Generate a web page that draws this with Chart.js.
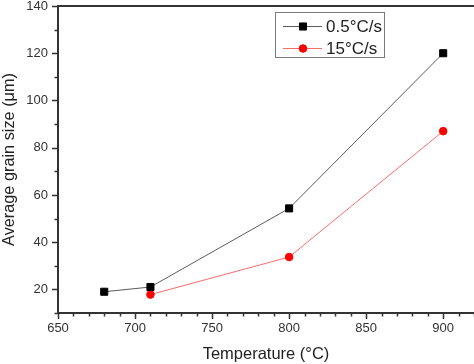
<!DOCTYPE html>
<html lang="en">
<head>
<meta charset="UTF-8" />
<title>Average grain size vs temperature</title>
<script src="https://cdn.jsdelivr.net/npm/chart.js"></script>
<style>
  html, body {
    margin: 0;
    padding: 0;
    background: #ffffff;
  }
  #wrap {
    width: 474px;
    height: 364px;
  }
</style>
</head>
<body>
<div id="wrap"><canvas id="grainChart" width="474" height="364"></canvas></div>

<script>
// data
const slowTemps = [680, 710, 800, 900];
const slowSizes = [19, 21, 54.3, 120];
const fastTemps = [710, 800, 900];
const fastSizes = [17.8, 33.7, 87];
const seriesLabels = ['0.5\u00B0C/s', '15\u00B0C/s'];
const xTickValues = [650, 700, 750, 800, 850, 900];
const yTickValues = [20, 40, 60, 80, 100, 120, 140];

const axisColor = '#333333';
const FONT = 'Liberation Sans, Arial, sans-serif';

function toPoints(xs, ys) {
  return xs.map((x, i) => ({ x: x, y: ys[i] }));
}

// minor + major tick marks on the outside of the axes, and the top frame line
const frameTicks = {
  id: 'frameTicks',
  afterDraw(chart) {
    const ctx = chart.ctx;
    const area = chart.chartArea;
    const xs = chart.scales.x;
    const ys = chart.scales.y;
    ctx.save();
    ctx.strokeStyle = axisColor;
    ctx.lineWidth = 1.5;
    ctx.beginPath();
    for (let v = 650; v <= 920; v += 10) {
      const px = Math.round(xs.getPixelForValue(v)) + 0.5;
      const len = v % 50 === 0 ? 6 : 3.5;
      ctx.moveTo(px, area.bottom);
      ctx.lineTo(px, area.bottom + len);
    }
    for (let v = 10; v <= 140; v += 10) {
      const py = Math.round(ys.getPixelForValue(v)) + 0.5;
      const len = v % 20 === 0 ? 6 : 3.5;
      ctx.moveTo(area.left, py);
      ctx.lineTo(area.left - len, py);
    }
    ctx.stroke();
    // top frame
    ctx.lineWidth = 2;
    ctx.beginPath();
    ctx.moveTo(area.left, area.top);
    ctx.lineTo(area.right, area.top);
    ctx.stroke();
    ctx.restore();
  }
};

// boxed legend with line + marker like the original
const boxLegend = {
  id: 'boxLegend',
  afterDraw(chart) {
    const ctx = chart.ctx;
    const bx = 275, by = 12, bw = 109, bh = 45;
    ctx.save();
    ctx.strokeStyle = '#7a7a7a';
    ctx.lineWidth = 1;
    ctx.strokeRect(bx + 0.5, by + 0.5, bw, bh);
    chart.data.datasets.forEach((ds, i) => {
      const y = by + 14 + i * 22;
      ctx.strokeStyle = ds.borderColor;
      ctx.lineWidth = 1;
      ctx.beginPath();
      ctx.moveTo(bx + 8, y + 0.5);
      ctx.lineTo(bx + 47, y + 0.5);
      ctx.stroke();
      ctx.fillStyle = ds.pointBackgroundColor;
      ctx.strokeStyle = ds.pointBorderColor;
      Chart.helpers.drawPoint(ctx, {
        pointStyle: ds.pointStyle,
        radius: ds.pointRadius,
        borderWidth: 1,
        rotation: 0
      }, bx + 28, y + 0.5);
      ctx.fillStyle = '#222222';
      ctx.font = '17px ' + FONT;
      ctx.textBaseline = 'middle';
      ctx.fillText(ds.label, bx + 51, y + 1);
    });
    ctx.restore();
  }
};

const ctx = document.getElementById('grainChart').getContext('2d');
new Chart(ctx, {
  type: 'line',
  data: {
    datasets: [{
      label: seriesLabels[0],
      data: toPoints(slowTemps, slowSizes),
      borderColor: '#5a5a5a',
      borderWidth: 1,
      pointStyle: 'rect',
      pointRadius: 5,
      pointBackgroundColor: '#000000',
      pointBorderColor: '#000000',
      tension: 0
    }, {
      label: seriesLabels[1],
      data: toPoints(fastTemps, fastSizes),
      borderColor: '#ff6b6b',
      borderWidth: 1,
      pointStyle: 'circle',
      pointRadius: 3.8,
      pointBackgroundColor: '#ff0000',
      pointBorderColor: '#ff0000',
      tension: 0
    }]
  },
  options: {
    responsive: false,
    animation: false,
    layout: { autoPadding: false, padding: { top: 6, right: 0, left: 0, bottom: 0 } },
    plugins: {
      legend: { display: false },
      tooltip: { enabled: false }
    },
    scales: {
      x: {
        type: 'linear',
        min: 650,
        max: 920,
        grid: { display: false, drawTicks: false },
        border: { display: true, color: axisColor, width: 2 },
        afterBuildTicks(scale) {
          scale.ticks = xTickValues.map(v => ({ value: v }));
        },
        ticks: {
          padding: 8,
          color: '#333333',
          font: { family: FONT, size: 13 },
          maxRotation: 0,
          autoSkip: false
        },
        title: {
          display: true,
          text: 'Temperature (\u00B0C)',
          color: '#222222',
          font: { family: FONT, size: 16.5 },
          padding: { top: 2, bottom: 0 }
        },
        afterFit(scale) {
          scale.height = 51;
          scale.paddingRight = 0;
          scale.paddingLeft = 0;
        }
      },
      y: {
        min: 10,
        max: 140,
        grid: { display: false, drawTicks: false },
        border: { display: true, color: axisColor, width: 2 },
        afterBuildTicks(scale) {
          scale.ticks = yTickValues.map(v => ({ value: v }));
        },
        ticks: {
          padding: 10,
          color: '#333333',
          font: { family: FONT, size: 13 },
          autoSkip: false
        },
        title: {
          display: true,
          text: 'Average grain size (\u03BCm)',
          color: '#222222',
          font: { family: FONT, size: 16.3 },
          padding: { top: 0, bottom: 2 }
        },
        afterFit(scale) {
          scale.width = 58;
          scale.paddingTop = 0;
          scale.paddingBottom = 0;
        }
      }
    }
  },
  plugins: [frameTicks, boxLegend]
});
</script>
</body>
</html>
